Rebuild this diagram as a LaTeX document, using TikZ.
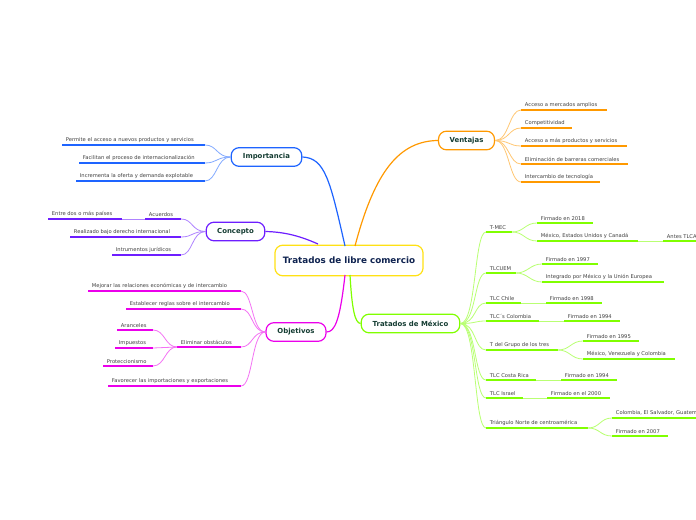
\documentclass[tikz,border=0pt]{standalone}
\usepackage{fontspec}
\setmainfont{DejaVu Sans}
\begin{document}
\begin{tikzpicture}[x=0.75pt,y=-0.75pt,
  lt/.style={font=\fontsize{3.9}{4.5}\selectfont, text=black!75, inner sep=0.5pt, anchor=south west},
  main/.style={draw=#1, line width=0.9pt, rounded corners=6pt, fill=white, font=\bfseries\fontsize{5.2}{6}\selectfont, text={rgb,255:red,20;green,60;blue,50}, minimum height=14pt, inner xsep=6pt},
  con/.style={draw=#1!55, line width=0.6pt},
  bcon/.style={draw=#1, line width=0.9pt}]
\definecolor{cor}{RGB}{255,153,0}
\definecolor{cbl}{RGB}{30,100,255}
\definecolor{cpu}{RGB}{110,30,255}
\definecolor{cmg}{RGB}{235,0,235}
\definecolor{cgr}{RGB}{128,255,0}
\definecolor{cye}{RGB}{255,225,20}
\useasboundingbox (0,0) rectangle (696,520);
\clip (0,0) rectangle (696,520);
\fill[white] (0,0) rectangle (696,520);
% leaf: name, x1, x2, y, text, color
\newcommand\leaf[6]{%
  \draw[line width=1.4pt,#6] (#2,#4) coordinate (#1-w) -- (#3,#4) coordinate (#1-e);
  \node[lt] (#1) at (#2+3,#4-1.5) {#5};}
% main nodes
\node[main=cye, minimum width=106pt, minimum height=23pt, font=\bfseries\fontsize{6.6}{8}\selectfont, text={rgb,255:red,15;green,35;blue,80}] (c) at (349,260.5) {Tratados de libre comercio};
\node[main=cor, minimum width=42pt] (ven) at (466.5,140.5) {Ventajas};
\node[main=cbl, minimum width=53pt] (imp) at (266.5,157) {Importancia};
\node[main=cpu, minimum width=44pt] (con) at (235.5,231.5) {Concepto};
\node[main=cmg, minimum width=45pt] (obj) at (296,332) {Objetivos};
\node[main=cgr, minimum width=74pt] (mex) at (410.5,323.5) {Tratados de México};
% main connectors
\draw[bcon=cor] (355,246) .. controls (375,170) and (400,141) .. (ven.west);
\draw[bcon=cbl] (345,246) .. controls (330,180) and (325,158) .. (imp.east);
\draw[bcon=cpu] (318,244) .. controls (300,236) and (285,232) .. (con.east);
\draw[bcon=cmg] (345,275) .. controls (340,320) and (335,332) .. (obj.east);
\draw[bcon=cgr] (350,275) .. controls (352,310) and (355,323) .. (mex.west);
% Ventajas
\leaf{v1}{521}{607}{110}{Acceso a mercados amplios}{cor}
\leaf{v2}{521}{572}{128}{Competitividad}{cor}
\leaf{v3}{521}{627}{146}{Acceso a más productos y servicios}{cor}
\leaf{v4}{521}{628}{164}{Eliminación de barreras comerciales}{cor}
\leaf{v5}{521}{600}{182}{Intercambio de tecnología}{cor}
\foreach \n in {v1,v2,v3,v4,v5}
  \draw[con=cor] (ven.east) .. controls +(14,0) and +(-12,0) .. (\n-w);
% Importancia
\leaf{i1}{62}{205}{145}{Permite el acceso a nuevos productos y servicios}{cbl}
\leaf{i2}{79}{205}{163}{Facilitan el proceso de internacionalización}{cbl}
\leaf{i3}{76}{205}{181}{Incrementa la oferta y demanda explotable}{cbl}
\foreach \n in {i1,i2,i3}
  \draw[con=cbl] (imp.west) .. controls +(-14,0) and +(12,0) .. (\n-e);
% Concepto
\leaf{k1}{145}{181}{219}{Acuerdos}{cpu}
\leaf{k11}{48}{122}{219}{Entre dos o más países}{cpu}
\draw[con=cpu] (k1-w) -- (k11-e);
\leaf{k2}{70}{181}{237}{Realizado bajo derecho internacional}{cpu}
\leaf{k3}{112}{181}{255}{Intrumentos jurídicos}{cpu}
\foreach \n in {k1,k2,k3}
  \draw[con=cpu] (con.west) .. controls +(-14,0) and +(12,0) .. (\n-e);
% Objetivos
\leaf{o1}{88}{241}{291}{Mejorar las relaciones económicas y de intercambio}{cmg}
\leaf{o2}{126}{241}{309}{Establecer reglas sobre el intercambio}{cmg}
\leaf{o3}{177}{241}{347}{Eliminar obstáculos}{cmg}
\leaf{o4}{108}{241}{386}{Favorecer las importaciones y exportaciones}{cmg}
\foreach \n in {o1,o2,o3,o4}
  \draw[con=cmg] (obj.west) .. controls +(-14,0) and +(12,0) .. (\n-e);
\leaf{o31}{117}{153}{330}{Aranceles}{cmg}
\leaf{o32}{115}{153}{348}{Impuestos}{cmg}
\leaf{o33}{103}{153}{366}{Proteccionismo}{cmg}
\foreach \n in {o31,o32,o33}
  \draw[con=cmg] (o3-w) .. controls +(-12,0) and +(12,0) .. (\n-e);
% Mexico
\leaf{m1}{486}{512}{232}{T-MEC}{cgr}
\leaf{m2}{486}{516}{273}{TLCUEM}{cgr}
\leaf{m3}{486}{521}{303}{TLC Chile}{cgr}
\leaf{m4}{486}{539}{321}{TLC´s Colombia}{cgr}
\leaf{m5}{486}{558}{350}{T del Grupo de los tres}{cgr}
\leaf{m6}{486}{536}{380}{TLC Costa Rica}{cgr}
\leaf{m7}{486}{523}{398}{TLC Israel}{cgr}
\leaf{m8}{486}{588}{428}{Triángulo Norte de centroamérica}{cgr}
\foreach \n in {m1,m2,m3,m4,m5,m6,m7,m8}
  \draw[con=cgr] (mex.east) .. controls +(16,0) and +(-12,0) .. (\n-w);
\leaf{m11}{537}{593}{223}{Firmado en 2018}{cgr}
\leaf{m12}{537}{638}{241}{México, Estados Unidos y Canadá}{cgr}
\leaf{m121}{663}{710}{241}{Antes TLCAN}{cgr}
\draw[con=cgr] (m12-e) -- (m121-w);
\leaf{m21}{542}{598}{264}{Firmado en 1997}{cgr}
\leaf{m22}{542}{664}{282}{Integrado por México y la Unión Europea}{cgr}
\leaf{m31}{546}{602}{303}{Firmado en 1998}{cgr}
\leaf{m41}{564}{620}{321}{Firmado en 1994}{cgr}
\leaf{m51}{583}{639}{341}{Firmado en 1995}{cgr}
\leaf{m52}{583}{675}{359}{México, Venezuela y Colombia}{cgr}
\leaf{m61}{561}{617}{380}{Firmado en 1994}{cgr}
\leaf{m71}{547}{610}{398}{Firmado en el 2000}{cgr}
\leaf{m81}{612}{730}{418}{Colombia, El Salvador, Guatemala y Honduras}{cgr}
\leaf{m82}{612}{668}{436}{Firmado en 2007}{cgr}
\foreach \p/\c in {m1/m11,m1/m12,m2/m21,m2/m22,m5/m51,m5/m52,m8/m81,m8/m82}
  \draw[con=cgr] (\p-e) .. controls +(12,0) and +(-12,0) .. (\c-w);
\foreach \p/\c in {m3/m31,m4/m41,m6/m61,m7/m71}
  \draw[con=cgr] (\p-e) -- (\c-w);
\end{tikzpicture}
\end{document}
